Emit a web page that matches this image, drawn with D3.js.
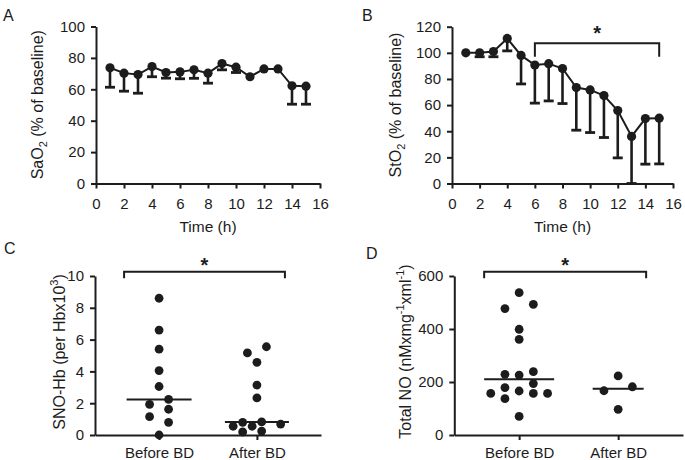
<!DOCTYPE html>
<html>
<head>
<meta charset="utf-8">
<script src="https://cdn.jsdelivr.net/npm/d3@7"></script>
<style>
  body { margin: 0; background: #fff; }
  svg { display: block; font-family: "Liberation Sans", Arial, Helvetica, sans-serif; }
</style>
</head>
<body>
<svg id="fig" width="685" height="460"></svg>
<script>
// ---- data ----
const hours = [1, 2, 3, 4, 5, 6, 7, 8, 9, 10, 11, 12, 13, 14, 15];
const xTicks = [0, 2, 4, 6, 8, 10, 12, 14, 16];

// A: SaO2, mean and SD (bars drawn downward only)
const saoMean = [73.7, 70.3, 69.4, 74.5, 70.7, 71.1, 72.4, 70.3, 76.4, 74.1, 68, 73, 73, 62.2, 62];
const saoSd   = [12.4, 11.5, 11.9, 6.5, 3.6, 4.4, 5.4, 6.4, 4.0, 3.4, 0, 0, 0, 11.7, 11.5];

// B: StO2, mean and SD
const stoMean = [100, 100, 101, 111, 98, 90.7, 91.7, 88, 73.4, 71.6, 67.3, 55.8, 36, 49.7, 50];
const stoSd   = [0, 3, 4, 9.5, 21.8, 29.2, 28.5, 26.8, 32.6, 32.6, 32.1, 36.2, 36, 34.9, 35];
const stoSig  = [6, 15];

// C / D groups
const groups = ['Before BD', 'After BD'];
const snoBefore = [8.6, 6.6, 5.4, 4.05, 3.05, 2.24, 1.93, 1.62, 1.15, 0.8, 0];
const snoAfter  = [5.55, 5.16, 4.57, 3.14, 2.33, 0.82, 0.8, 0.69, 0.55, 0.55, 0.25, 0.19];
const noBefore  = [537, 493, 477, 399, 361, 239, 229, 226, 194, 179, 166, 157, 157, 157, 137, 70];
const noAfter   = [223, 182, 167, 97];

const ink = '#1c1c1c';
const svg = d3.select('#fig');

function styleAxis(g) {
  g.select('.domain').attr('stroke', ink).attr('stroke-width', 2);
  g.selectAll('.tick line').attr('stroke', ink).attr('stroke-width', 2);
  g.selectAll('.tick text').attr('fill', ink).attr('font-size', '15px')
    .attr('font-family', '"Liberation Sans", Arial, sans-serif');
}

function panelLetter(txt, x, y) {
  svg.append('text').attr('x', x).attr('y', y)
    .attr('font-size', '16px').attr('fill', ink).text(txt);
}

function yTitle(x, y, parts) {
  const t = svg.append('text')
    .attr('transform', `translate(${x},${y}) rotate(-90)`)
    .attr('text-anchor', 'middle')
    .attr('font-size', '16px')
    .attr('fill', ink);
  for (const p of parts) {
    const s = t.append('tspan').text(p.t);
    if (p.sub) s.attr('font-size', '11px').attr('dy', 4);
    else if (p.sup) s.attr('font-size', '11px').attr('dy', -7);
    if (p.back) s.attr('dy', p.back);
  }
}

function star(x, y) {
  svg.append('text').attr('x', x).attr('y', y)
    .attr('text-anchor', 'middle')
    .attr('font-size', '20px').attr('font-weight', 'bold')
    .attr('fill', ink).text('*');
}

// ---- time course panels ----
function timePanel(o) {
  const x = d3.scaleLinear().domain([0, 16]).range(o.xr);
  const y = d3.scaleLinear().domain([0, o.yMax]).range(o.yr);

  svg.append('g').attr('transform', `translate(0,${o.yr[0]})`)
    .call(d3.axisBottom(x).tickValues(xTicks).tickSizeInner(5).tickSizeOuter(0).tickPadding(10))
    .call(styleAxis);
  svg.append('g').attr('transform', `translate(${o.xr[0]},0)`)
    .call(d3.axisLeft(y).tickValues(o.yTicks).tickSizeInner(5).tickSizeOuter(0).tickPadding(6))
    .call(styleAxis);

  const g = svg.append('g');
  hours.forEach((h, i) => {
    if (!o.sd[i]) return;
    const lo = Math.max(0, o.mean[i] - o.sd[i]);
    g.append('line')
      .attr('x1', x(h)).attr('x2', x(h))
      .attr('y1', y(o.mean[i])).attr('y2', y(lo))
      .attr('stroke', ink).attr('stroke-width', 2.6);
    g.append('line')
      .attr('x1', x(h) - 5).attr('x2', x(h) + 5)
      .attr('y1', y(lo)).attr('y2', y(lo))
      .attr('stroke', ink).attr('stroke-width', 2.8);
  });

  g.append('path')
    .datum(hours.map((h, i) => [h, o.mean[i]]))
    .attr('fill', 'none').attr('stroke', ink).attr('stroke-width', 2)
    .attr('d', d3.line().x(d => x(d[0])).y(d => y(d[1])));

  g.selectAll('circle').data(hours).join('circle')
    .attr('cx', d => x(d)).attr('cy', (d, i) => y(o.mean[i]))
    .attr('r', 4.6).attr('fill', ink);

  svg.append('text')
    .attr('x', (o.xr[0] + o.xr[1]) / 2).attr('y', o.yr[0] + 48)
    .attr('text-anchor', 'middle').attr('font-size', '15.5px').attr('fill', ink)
    .text('Time (h)');

  return { x, y };
}

timePanel({ xr: [96, 320], yr: [183.5, 26.5], yMax: 100, yTicks: [0, 20, 40, 60, 80, 100],
            mean: saoMean, sd: saoSd });
const b = timePanel({ xr: [452, 673], yr: [183.5, 26.7], yMax: 120, yTicks: [0, 20, 40, 60, 80, 100, 120],
            mean: stoMean, sd: stoSd });

// bracket over significant hours in B
const bx1 = b.x(stoSig[0]), bx2 = b.x(stoSig[1]);
svg.append('path')
  .attr('d', `M${bx1},56.7V43.3H${bx2}V56.7`)
  .attr('fill', 'none').attr('stroke', ink).attr('stroke-width', 2);
star((bx1 + bx2) / 2, 40);

panelLetter('A', 3, 20.7);
panelLetter('B', 362, 21);
yTitle(43, 104.7, [{ t: 'SaO' }, { t: '2', sub: true }, { t: ' (% of baseline)', back: -4 }]);
yTitle(401, 105, [{ t: 'StO' }, { t: '2', sub: true }, { t: ' (% of baseline)', back: -4 }]);

// ---- scatter panels ----
// Prism-like column spreading: points that overlap vertically are pushed into
// side columns, then each overlapping run is centred on the group position.
function spread(vals, y, cx, h, minDy, adjDy) {
  const pts = vals.map(v => ({ v, py: y(v), col: 0 })).sort((a, b) => a.py - b.py);
  const cand = [1, -1, 0, 2, -2, 3, -3, 4, -4, 5, -5];
  let i = 0;
  while (i < pts.length) {
    let j = i + 1;
    while (j < pts.length && pts[j].py - pts[j - 1].py < minDy) j++;
    const run = pts.slice(i, j);
    if (run.length > 1) {
      run.forEach((p, k) => {
        const placed = run.slice(0, k);
        p.col = cand.find(c => placed.every(q => {
          const dc = Math.abs(q.col - c), d = Math.abs(q.py - p.py);
          return !(dc === 0 && d < minDy) && !(dc === 1 && d < adjDy);
        }));
      });
      const shift = (d3.min(run, p => p.col) + d3.max(run, p => p.col)) / 2;
      run.forEach(p => { p.col -= shift; });
    }
    i = j;
  }
  return pts.map(p => ({ x: cx + p.col * h, y: p.py }));
}

function scatterPanel(o) {
  const x = d3.scalePoint().domain(groups).range(o.xr).padding(0.655);
  const y = d3.scaleLinear().domain([0, o.yMax]).range(o.yr);

  svg.append('g').attr('transform', `translate(0,${o.yr[0]})`)
    .call(d3.axisBottom(x).tickSizeInner(5).tickSizeOuter(0).tickPadding(7))
    .call(styleAxis);
  svg.append('g').attr('transform', `translate(${o.xr[0]},0)`)
    .call(d3.axisLeft(y).tickValues(o.yTicks).tickSizeInner(5).tickSizeOuter(0).tickPadding(6))
    .call(styleAxis);

  o.sets.forEach((vals, i) => {
    const cx = x(groups[i]);
    const nodes = spread(vals, y, cx, o.step, 9, o.adjDy);
    svg.append('g').selectAll('circle').data(nodes).join('circle')
      .attr('cx', d => d.x).attr('cy', d => d.y)
      .attr('r', 4.4).attr('fill', ink);
    const m = y(d3.median(vals));
    svg.append('line')
      .attr('x1', cx - o.medW[i]).attr('x2', cx + o.medW[i])
      .attr('y1', m).attr('y2', m)
      .attr('stroke', ink).attr('stroke-width', 2);
  });

  const x1 = x(groups[0]) - 35, x2 = x(groups[1]) + 28;
  svg.append('path')
    .attr('d', `M${x1},278.3V271.7H${x2}V278.3`)
    .attr('fill', 'none').attr('stroke', ink).attr('stroke-width', 2);
  star((x1 + x2) / 2, 272);
}

scatterPanel({ xr: [95, 321], yr: [435, 276], yMax: 10, yTicks: [0, 2, 4, 6, 8, 10],
               sets: [snoBefore, snoAfter], step: 9.5, adjDy: 3.5, medW: [32.5, 32] });
scatterPanel({ xr: [454.3, 683], yr: [435, 276], yMax: 600, yTicks: [0, 200, 400, 600],
               sets: [noBefore, noAfter], step: 14.2, adjDy: 0, medW: [35, 25.5] });

panelLetter('C', 4, 254);
panelLetter('D', 366, 258.5);
yTitle(65, 352, [{ t: 'SNO-Hb (per Hbx10' }, { t: '3', sup: true }, { t: ')', back: 7 }]);
yTitle(410.5, 351.5, [{ t: 'Total NO (nMxmg' }, { t: '-1', sup: true }, { t: 'xml', back: 7 },
                      { t: '-1', sup: true }, { t: ')', back: 7 }]);
</script>
</body>
</html>
